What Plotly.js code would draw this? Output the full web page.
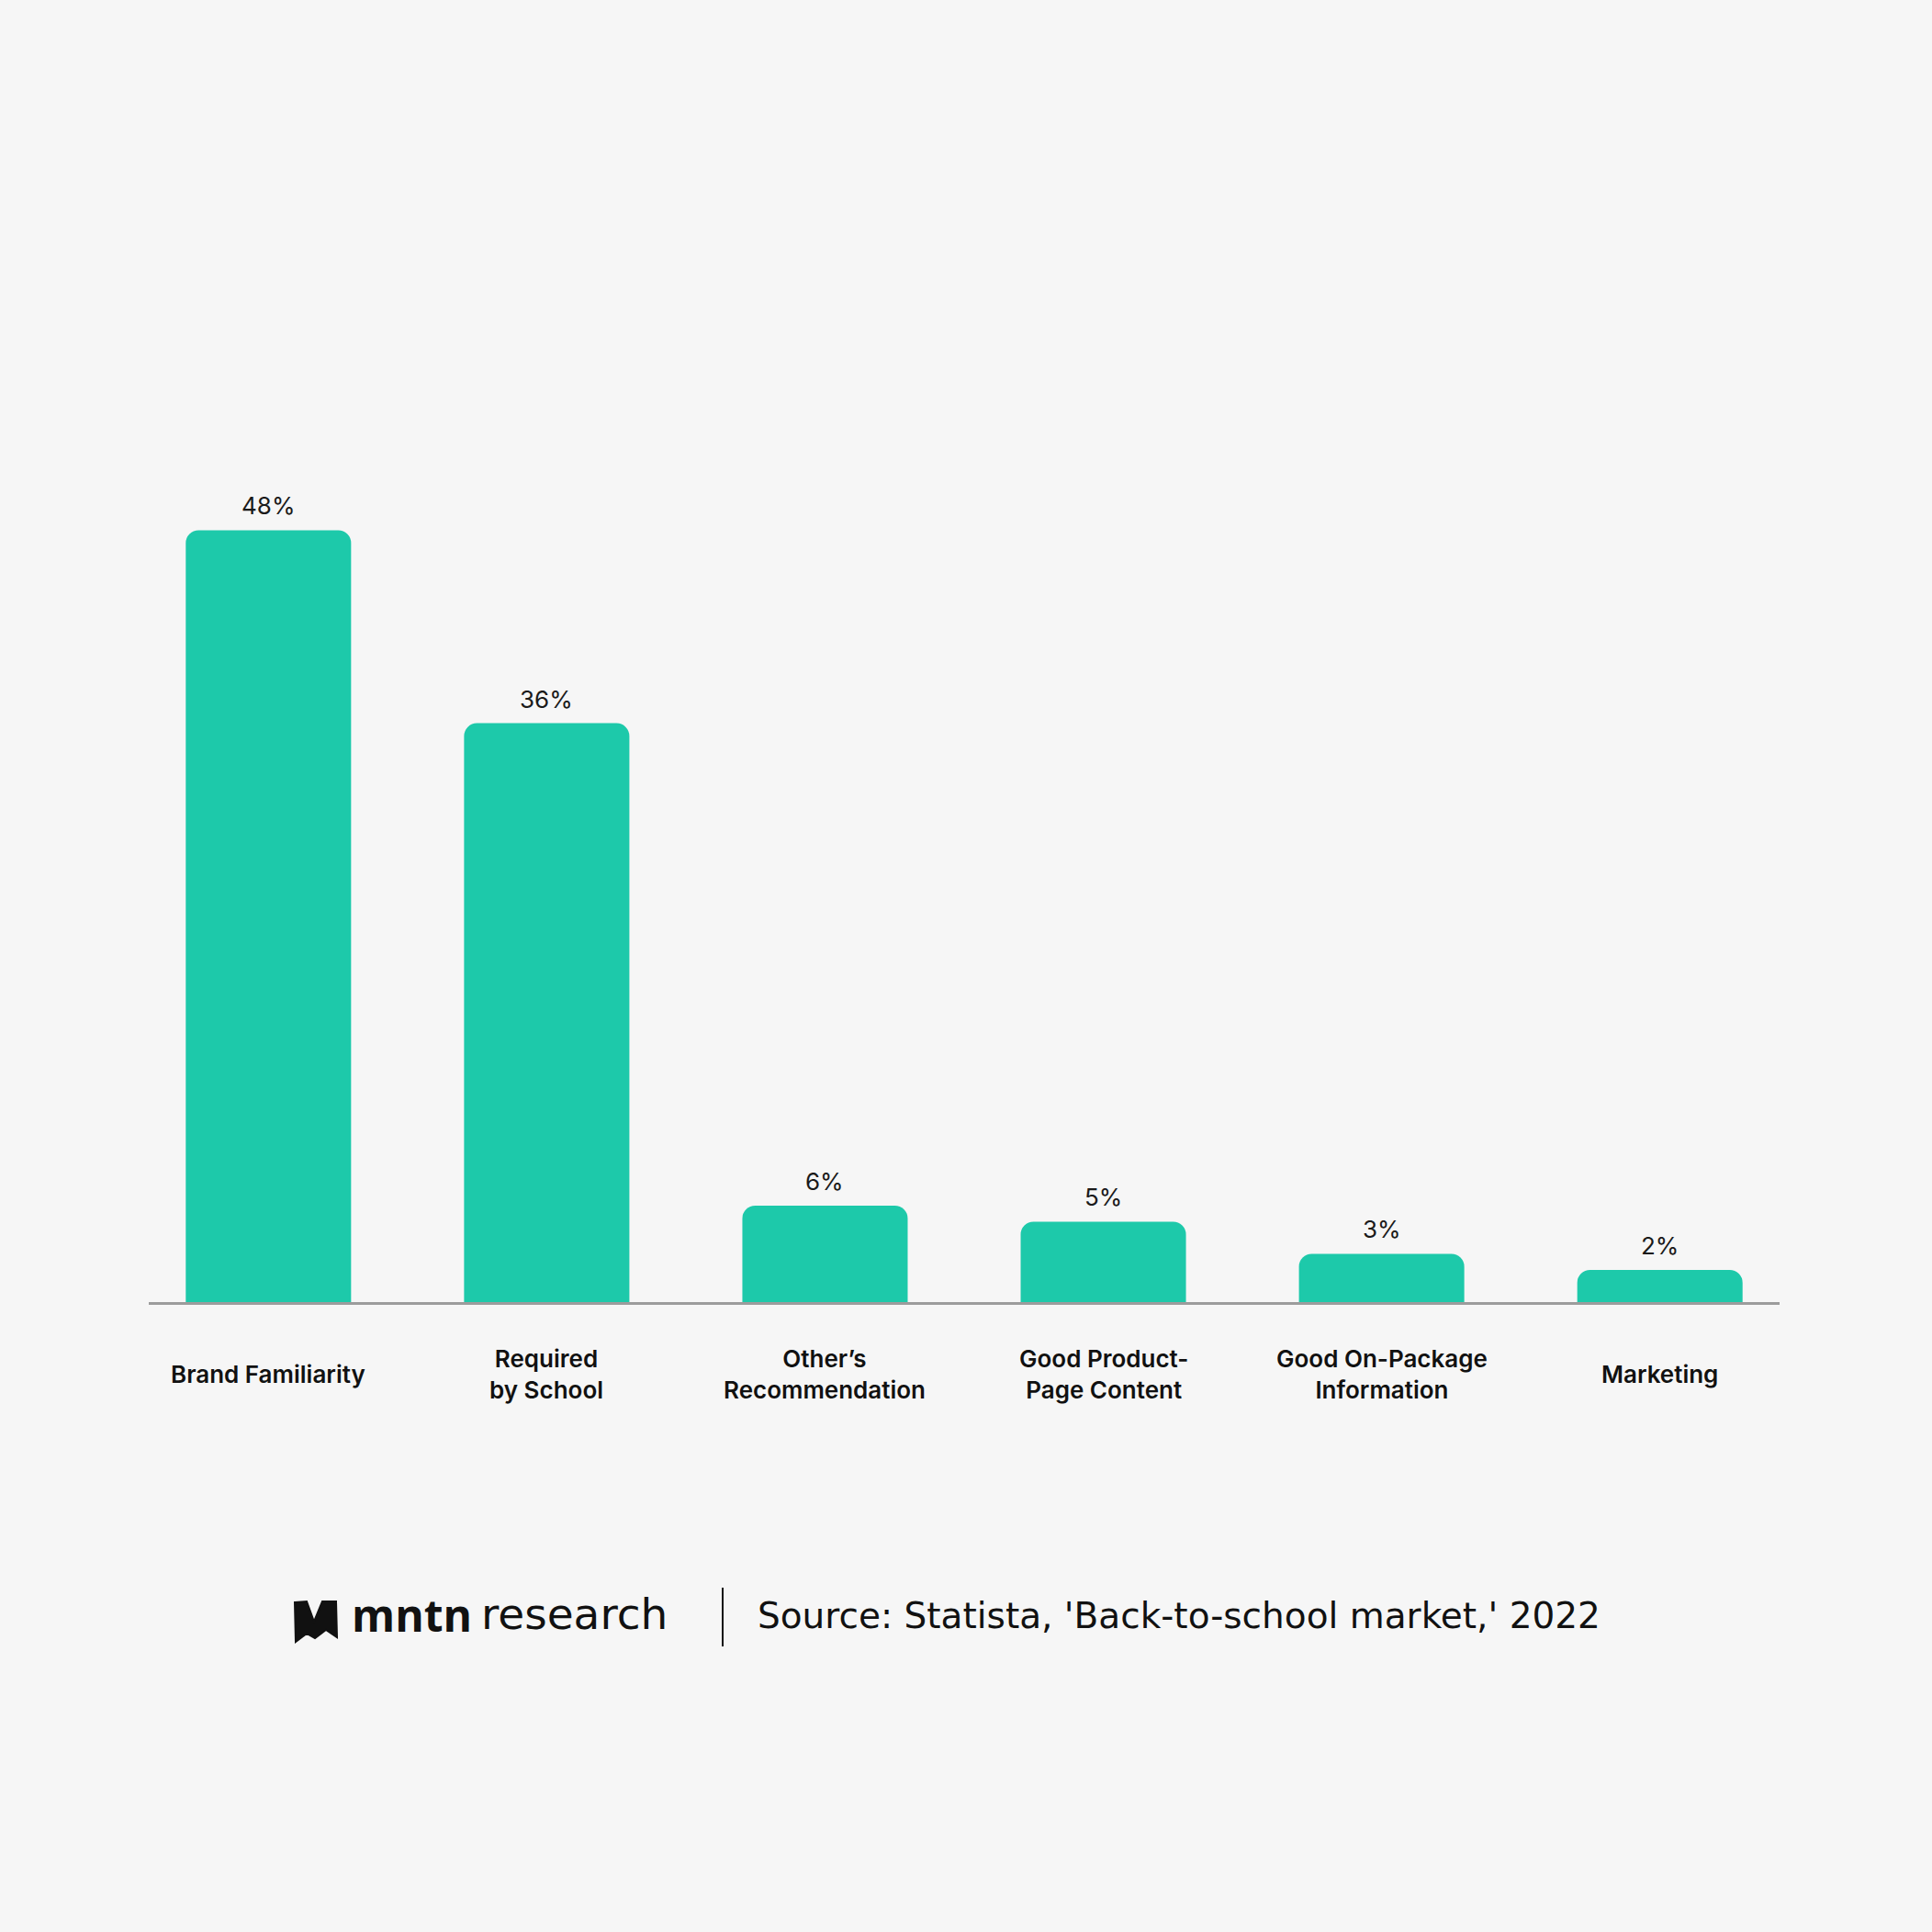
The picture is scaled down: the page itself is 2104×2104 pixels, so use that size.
<!DOCTYPE html>
<html>
<head>
<meta charset="utf-8">
<script src="https://cdn.plot.ly/plotly-3.0.1.min.js"></script>
<style>
  html, body { margin: 0; padding: 0; background: #f6f6f6; }
  #chart { width: 2104px; height: 2104px; }
</style>
</head>
<body>
<div id="chart"></div>
<script>
const categories = ["Brand Familiarity", "Required by School", "Other’s Recommendation", "Good Product-Page Content", "Good On-Package Information", "Marketing"];
const tickLabels = ["Brand Familiarity", "Required<br>by School", "Other’s<br>Recommendation", "Good Product-<br>Page Content", "Good On-Package<br>Information", "Marketing"];
const values = [48, 36, 6, 5, 3, 2];
const brandBold = "mntn";
const brandRegular = "research";
const sourceText = "Source: Statista, 'Back-to-school market,' 2022";

const W = 2104, H = 2104;
const M = { l: 162, r: 166, t: 362, b: 686 };
const plotW = W - M.l - M.r, plotH = H - M.t - M.b;
const px = x => (x - M.l) / plotW;
const py = y => (H - M.b - y) / plotH;

const barColor = "#1dc9aa";

const trace = {
  type: "bar",
  x: categories,
  y: values,
  width: 0.594,
  marker: { color: barColor, cornerradius: 14, line: { width: 0 } },
  hoverinfo: "skip"
};

const annotations = [];
const labelFont = { family: "Inter, Lato, sans-serif", size: 26, color: "#111111", weight: 600 };
categories.forEach((c, i) => {
  annotations.push({
    x: c, y: values[i], xref: "x", yref: "y",
    text: values[i] + "%", showarrow: false,
    yanchor: "bottom", xanchor: "center", yshift: 9,
    font: { family: "Inter, Lato, sans-serif", size: 26, color: "#1a1a1a", weight: 400 }
  });
  annotations.push({
    x: c, y: py(1496), xref: "x", yref: "paper",
    text: tickLabels[i], showarrow: false,
    yanchor: "middle", xanchor: "center", align: "center",
    font: labelFont
  });
});

annotations.push({
  x: px(381), y: py(1758), xref: "paper", yref: "paper",
  text: "<b>" + brandBold + "</b>", showarrow: false, xanchor: "left", yanchor: "middle",
  font: { family: "Open Sans, sans-serif", size: 48, color: "#111111" }
});
annotations.push({
  x: px(522), y: py(1757), xref: "paper", yref: "paper",
  text: brandRegular, showarrow: false, xanchor: "left", yanchor: "middle",
  font: { family: "DejaVu Sans, sans-serif", size: 47, color: "#111111" }
});
annotations.push({
  x: px(823), y: py(1760), xref: "paper", yref: "paper",
  text: sourceText, showarrow: false, xanchor: "left", yanchor: "middle",
  font: { family: "DejaVu Sans, sans-serif", size: 39, color: "#111111" }
});

function pathFromPx(pts) {
  return "M " + pts.map(p => px(p[0]) + "," + py(p[1])).join(" L ") + " Z";
}
const logoPts = [
  [321, 1745], [334, 1744], [342, 1766], [351, 1744], [366, 1744],
  [367, 1783], [355, 1775], [343, 1784], [334, 1779], [322, 1788]
];

const shapes = [
  { type: "path", xref: "paper", yref: "paper", path: pathFromPx(logoPts),
    fillcolor: "#111111", line: { color: "#111111", width: 2 } },
  { type: "line", xref: "paper", yref: "paper",
    x0: px(787), x1: px(787), y0: py(1729), y1: py(1793),
    line: { color: "#111111", width: 2 } }
];

const layout = {
  width: W, height: H,
  margin: M,
  paper_bgcolor: "#f6f6f6",
  plot_bgcolor: "#f6f6f6",
  showlegend: false,
  xaxis: {
    type: "category", range: [-0.43, 5.43],
    showline: true, linecolor: "#9c9c9c", linewidth: 3,
    showticklabels: false, ticks: "", showgrid: false, zeroline: false,
    layer: "below traces", fixedrange: true
  },
  yaxis: {
    range: [0, 60.3], showgrid: false, zeroline: false, showline: false,
    showticklabels: false, ticks: "", fixedrange: true
  },
  annotations: annotations,
  shapes: shapes
};

Plotly.newPlot("chart", [trace], layout, { displayModeBar: false, staticPlot: true });
</script>
</body>
</html>
